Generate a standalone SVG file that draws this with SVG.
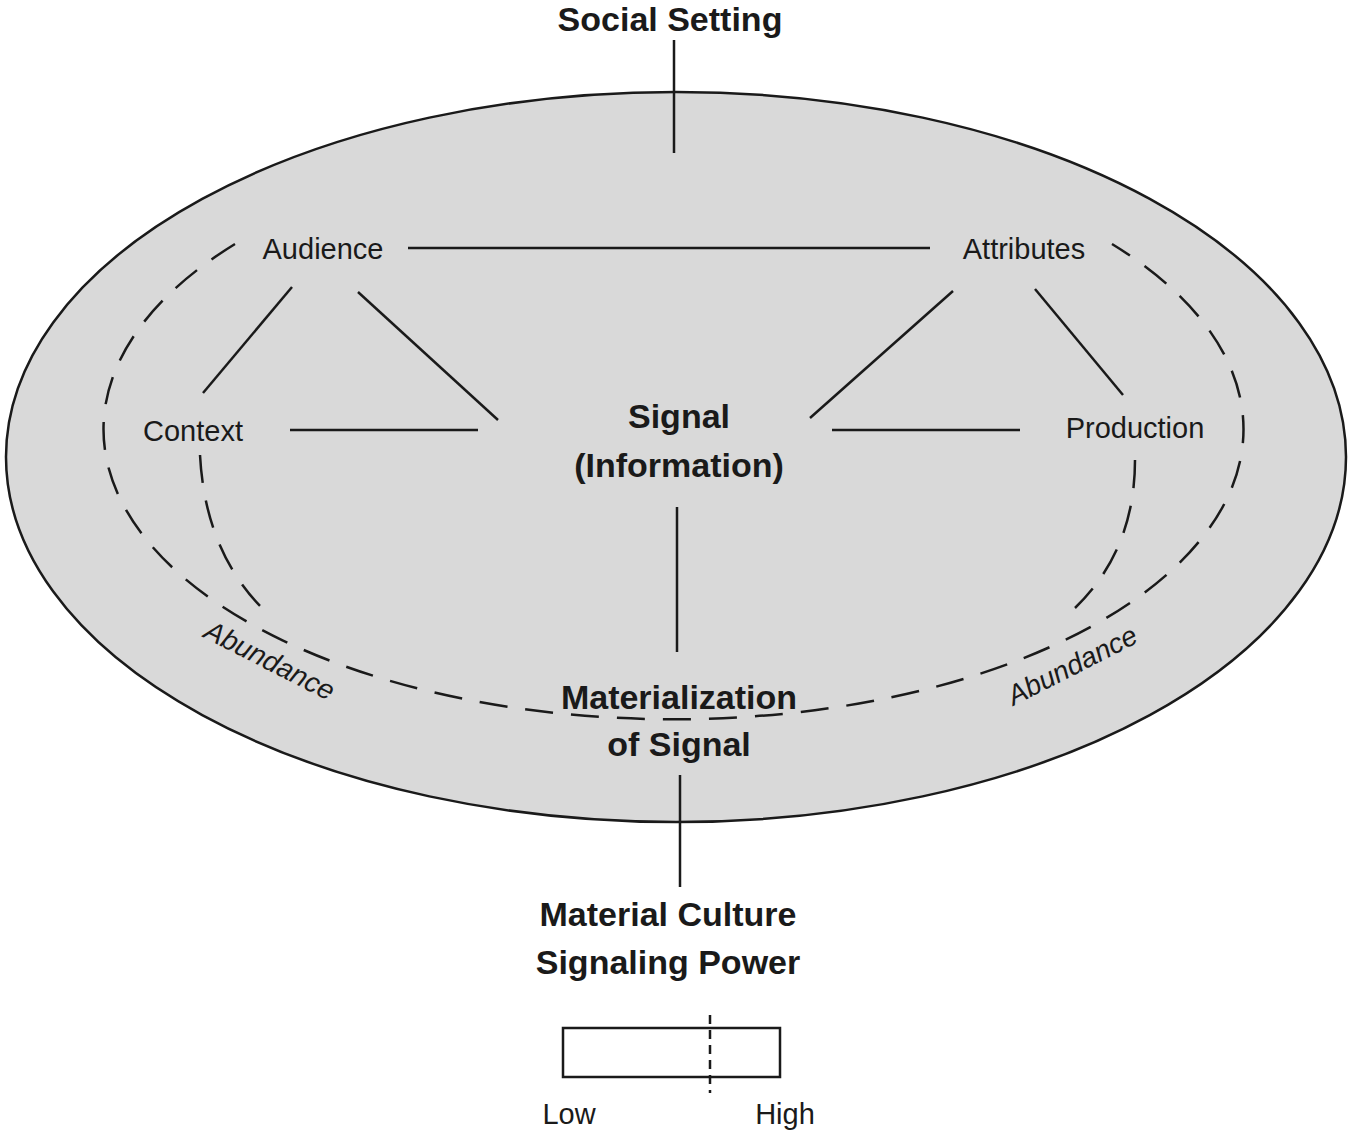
<svg xmlns="http://www.w3.org/2000/svg" width="1350" height="1135" viewBox="0 0 1350 1135">
<style>
.t{font-family:"Liberation Sans",Arial,sans-serif;fill:#1a1a1a;text-anchor:middle}
.b{font-weight:bold;font-size:34px}
.r{font-size:29px}
.i{font-size:28px;font-style:italic}
.l{stroke:#1a1a1a;stroke-width:2.5;fill:none}
.d{stroke:#1a1a1a;stroke-width:2.5;fill:none;stroke-dasharray:28 18}
</style>
<rect width="1350" height="1135" fill="#fff"/>
<g id="setting"><ellipse cx="676" cy="457" rx="670" ry="365" fill="#d9d9d9" stroke="#1a1a1a" stroke-width="2.5"/></g>
<g id="dashes">
<path class="d" d="M235 244 A570 290 0 1 0 1112 244"/>
<path class="d" d="M200 455 Q205 550 262 608"/>
<path class="d" d="M1135 460 Q1135 550 1075 608"/>
</g>
<g id="connectors">
<line class="l" x1="674" y1="40" x2="674" y2="153"/>
<line class="l" x1="408" y1="248" x2="930" y2="248"/>
<line class="l" x1="292" y1="287" x2="203" y2="393"/>
<line class="l" x1="358" y1="292" x2="498" y2="420"/>
<line class="l" x1="290" y1="430" x2="478" y2="430"/>
<line class="l" x1="953" y1="291" x2="810" y2="418"/>
<line class="l" x1="1035" y1="289" x2="1123" y2="395"/>
<line class="l" x1="832" y1="430" x2="1020" y2="430"/>
<line class="l" x1="677" y1="507" x2="677" y2="652"/>
<line class="l" x1="680" y1="775" x2="680" y2="887"/>
</g>
<g id="n-social"><text class="t b" x="670" y="31">Social Setting</text></g>
<g id="n-audience"><text class="t r" x="323" y="259">Audience</text></g>
<g id="n-attributes"><text class="t r" x="1024" y="259">Attributes</text></g>
<g id="n-context"><text class="t r" x="193" y="441">Context</text></g>
<g id="n-production"><text class="t r" x="1135" y="438">Production</text></g>
<g id="n-signal"><text class="t b" x="679" y="428">Signal</text><text class="t b" x="679" y="477">(Information)</text></g>
<g id="n-mat"><text class="t b" x="679" y="709">Materialization</text><text class="t b" x="679" y="756">of Signal</text></g>
<g id="n-ab1"><text class="t i" x="270" y="670" transform="rotate(27 270 660)">Abundance</text></g>
<g id="n-ab2"><text class="t i" x="1072" y="675" transform="rotate(-27 1072 665)">Abundance</text></g>
<g id="n-power"><text class="t b" x="668" y="926">Material Culture</text><text class="t b" x="668" y="974">Signaling Power</text></g>
<g id="scale">
<rect x="563" y="1028" width="217" height="49" fill="#fff" stroke="#1a1a1a" stroke-width="2.5"/>
<line x1="710" y1="1015" x2="710" y2="1093" stroke="#1a1a1a" stroke-width="2.5" stroke-dasharray="9 6"/>
<text class="t r" x="569" y="1124">Low</text>
<text class="t r" x="785" y="1124">High</text>
</g>
</svg>
